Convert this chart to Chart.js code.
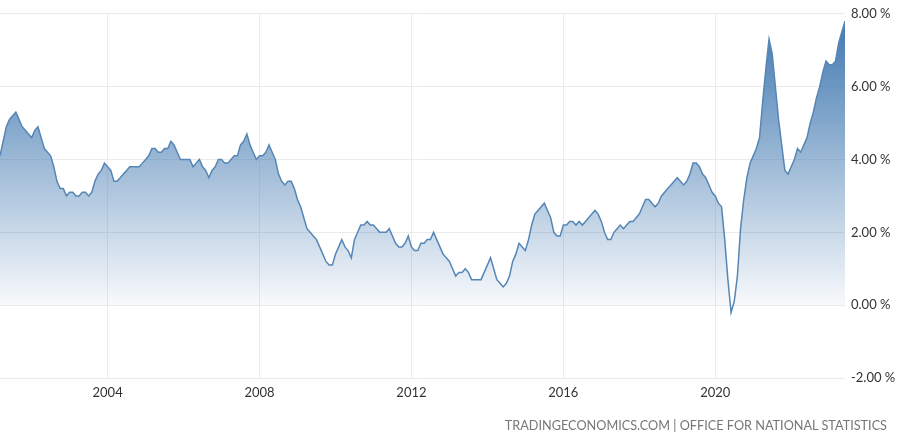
<!DOCTYPE html>
<html>
<head>
<meta charset="utf-8">
<script src="https://cdn.jsdelivr.net/npm/chart.js@4.4.0/dist/chart.umd.min.js"></script>
<style>
  html, body { margin: 0; padding: 0; background: #fff; }
  #wrap { position: relative; width: 900px; height: 437px; }
  #source {
    position: absolute; right: 13px; top: 417px;
    font: 12.7px Lato, "Open Sans", sans-serif; color: #777;
    white-space: nowrap;
  }
</style>
</head>
<body>
<div id="wrap">
  <canvas id="chart" width="900" height="437"></canvas>
  <div id="source">TRADINGECONOMICS.COM | OFFICE FOR NATIONAL STATISTICS</div>
</div>
<script>
// first month of the series (March 2001), monthly values after that
const firstYear = 2001
const firstMonth = 3

// UK average earnings growth, %, one row per calendar year
const wageGrowth = [
  4.1, 4.5, 4.9, 5.1, 5.2, 5.3, 5.1, 4.9, 4.8, 4.7,            // 2001 (Mar-Dec)
  4.6, 4.8, 4.9, 4.6, 4.3, 4.2, 4.1, 3.8, 3.4, 3.2, 3.2, 3.0,  // 2002
  3.1, 3.1, 3.0, 3.0, 3.1, 3.1, 3.0, 3.1, 3.4, 3.6, 3.7, 3.9,  // 2003
  3.8, 3.7, 3.4, 3.4, 3.5, 3.6, 3.7, 3.8, 3.8, 3.8, 3.8, 3.9,  // 2004
  4.0, 4.1, 4.3, 4.3, 4.2, 4.2, 4.3, 4.3, 4.5, 4.4, 4.2, 4.0,  // 2005
  4.0, 4.0, 4.0, 3.8, 3.9, 4.0, 3.8, 3.7, 3.5, 3.7, 3.8, 4.0,  // 2006
  4.0, 3.9, 3.9, 4.0, 4.1, 4.1, 4.4, 4.5, 4.7, 4.4, 4.2, 4.0,  // 2007
  4.1, 4.1, 4.2, 4.4, 4.2, 4.0, 3.6, 3.4, 3.3, 3.4, 3.4, 3.2,  // 2008
  2.9, 2.7, 2.4, 2.1, 2.0, 1.9, 1.8, 1.6, 1.4, 1.2, 1.1, 1.1,  // 2009
  1.4, 1.6, 1.8, 1.6, 1.5, 1.3, 1.8, 2.0, 2.2, 2.2, 2.3, 2.2,  // 2010
  2.2, 2.1, 2.0, 2.0, 2.0, 2.1, 1.9, 1.7, 1.6, 1.6, 1.7, 1.9,  // 2011
  1.6, 1.5, 1.5, 1.7, 1.7, 1.8, 1.8, 2.0, 1.8, 1.6, 1.4, 1.3,  // 2012
  1.2, 1.0, 0.8, 0.9, 0.9, 1.0, 0.9, 0.7, 0.7, 0.7, 0.7, 0.9,  // 2013
  1.1, 1.3, 1.0, 0.7, 0.6, 0.5, 0.6, 0.8, 1.2, 1.4, 1.7, 1.6,  // 2014
  1.5, 1.8, 2.2, 2.5, 2.6, 2.7, 2.8, 2.6, 2.4, 2.0, 1.9, 1.9,  // 2015
  2.2, 2.2, 2.3, 2.3, 2.2, 2.3, 2.2, 2.3, 2.4, 2.5, 2.6, 2.5,  // 2016
  2.3, 2.0, 1.8, 1.8, 2.0, 2.1, 2.2, 2.1, 2.2, 2.3, 2.3, 2.4,  // 2017
  2.5, 2.7, 2.9, 2.9, 2.8, 2.7, 2.8, 3.0, 3.1, 3.2, 3.3, 3.4,  // 2018
  3.5, 3.4, 3.3, 3.4, 3.6, 3.9, 3.9, 3.8, 3.6, 3.5, 3.3, 3.1,  // 2019
  3.0, 2.8, 2.7, 1.8, 0.7, -0.2, 0.1, 0.8, 2.1, 2.9, 3.5, 3.9, // 2020
  4.1, 4.3, 4.6, 5.6, 6.5, 7.3, 6.9, 6.0, 5.1, 4.4, 3.7, 3.6,  // 2021
  3.8, 4.0, 4.3, 4.2, 4.4, 4.6, 5.0, 5.3, 5.7, 6.0, 6.4, 6.7,  // 2022
  6.6, 6.6, 6.7, 7.2, 7.5, 7.8                                 // 2023 (Jan-Jun)
]

const yearTicks = [2004, 2008, 2012, 2016, 2020]
const valueTicks = [-2, 0, 2, 4, 6, 8]

const points = wageGrowth.map((v, i) => ({ x: firstYear + (firstMonth - 1 + i) / 12, y: v }))

const tickFont = { family: 'Lato, "Open Sans", sans-serif', size: 13 }

// fill fades from blue at the top to almost white at the zero line
const areaFill = (context) => {
  const chart = context.chart
  const area = chart.chartArea
  if (!area) return 'rgba(62,118,175,0.5)'
  const zero = chart.scales.y.getPixelForValue(0)
  const g = chart.ctx.createLinearGradient(0, area.top, 0, zero)
  g.addColorStop(0, 'rgba(62,118,175,1)')
  g.addColorStop(1, 'rgba(62,118,175,0.04)')
  return g
}

new Chart(document.getElementById('chart'), {
  type: 'line',
  data: {
    datasets: [{
      data: points,
      borderColor: '#5686b5',
      borderWidth: 1.5,
      pointRadius: 0,
      tension: 0,
      fill: 'origin',
      backgroundColor: areaFill
    }]
  },
  options: {
    responsive: false,
    animation: false,
    layout: { padding: { top: 13, right: 0, bottom: 0, left: 0 } },
    plugins: {
      legend: { display: false },
      tooltip: { enabled: false }
    },
    scales: {
      x: {
        type: 'linear',
        min: points[0].x,
        max: points[points.length - 1].x,
        afterBuildTicks: (axis) => { axis.ticks = yearTicks.map(v => ({ value: v })) },
        afterFit: (axis) => { axis.height = 59 },
        grid: { color: '#ebebeb', drawTicks: false },
        border: { display: false },
        ticks: {
          padding: 7,
          color: '#333',
          font: tickFont,
          maxRotation: 0,
          callback: (v) => String(v)
        }
      },
      y: {
        position: 'right',
        min: -2,
        max: 8,
        afterBuildTicks: (axis) => { axis.ticks = valueTicks.map(v => ({ value: v })) },
        afterFit: (axis) => { axis.width = 55 },
        grid: { color: '#ebebeb', drawTicks: false },
        border: { display: false },
        ticks: {
          padding: 6,
          color: '#333',
          font: tickFont,
          callback: (v) => v.toFixed(2) + ' %'
        }
      }
    }
  }
})
</script>
</body>
</html>
